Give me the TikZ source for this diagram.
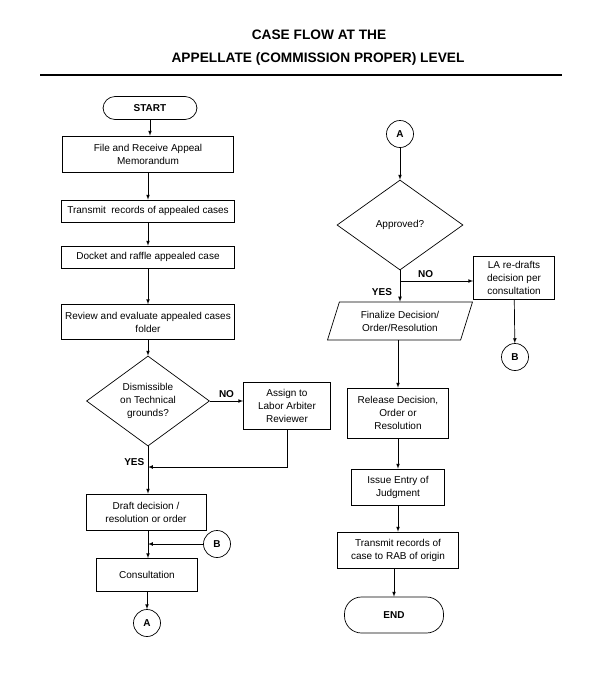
\documentclass[tikz,border=0pt]{standalone}
\usepackage{fontspec}
\setmainfont{Liberation Sans}
\usetikzlibrary{positioning,arrows}
\usetikzlibrary{shapes.geometric}
\tikzstyle{box} = [draw, rectangle, align=center, inner sep=2pt, font=\fontsize{10}{13}\selectfont]
\tikzstyle{term} = [draw, rectangle, rounded corners=12pt, font=\bfseries\fontsize{10}{12}\selectfont]
\tikzstyle{decide} = [draw, diamond, aspect=1.4, inner sep=0pt, align=center, font=\fontsize{10}{13}\selectfont]
\tikzstyle{slant} = [draw, trapezium, trapezium left angle=62, trapezium right angle=118, trapezium stretches body, align=center, inner sep=1pt, font=\fontsize{10}{13}\selectfont]
\tikzstyle{conn} = [draw, circle, minimum size=27pt, inner sep=0pt, font=\bfseries\fontsize{10}{12}\selectfont]
\tikzstyle{lbl} = [font=\bfseries\fontsize{10}{12}\selectfont]
\begin{document}
\begin{tikzpicture}[x=1pt,y=-1pt,line width=0.7pt,>=latex]
    \useasboundingbox (0,0) rectangle (607,678);
    % Title
    \node[font=\bfseries\fontsize{13.7}{16}\selectfont] (title1) at (319,35) {CASE FLOW AT THE};
    \node[font=\bfseries\fontsize{13.7}{16}\selectfont] (title2) at (318,59) {APPELLATE (COMMISSION PROPER) LEVEL};
    \draw[line width=1.4pt] (40,75) coordinate (rule_1) -- (562,75) coordinate (rule_2);
    % Left column
    \node[term, minimum width=94pt, minimum height=23pt] (start) at (150,108) {START};
    \node[box, minimum width=171pt, minimum height=36pt] (file) at (148,154) {File and Receive Appeal\\Memorandum};
    \node[box, minimum width=173pt, minimum height=22pt] (send) at (148,211) {Transmit\ \ records of appealed cases};
    \node[box, minimum width=173pt, minimum height=22pt] (docket) at (148,257) {Docket and raffle appealed case};
    \node[box, minimum width=173pt, minimum height=35pt] (review) at (148,322) {Review and evaluate appealed cases\\folder};
    \node[decide, minimum width=123pt, minimum height=90pt] (dismiss) at (148,401) {Dismissible\\on Technical\\grounds?};
    \node[box, minimum width=87pt, minimum height=47pt] (assign) at (287,406) {Assign to\\Labor Arbiter\\Reviewer};
    \node[box, minimum width=120pt, minimum height=36pt] (draft) at (146,512) {Draft decision /\\resolution or order};
    \node[box, minimum width=101pt, minimum height=33pt] (consult) at (147,575) {Consultation};
    \node[conn] (a_out) at (147,623) {A};
    \node[conn] (b_in) at (217,544) {B};
    \coordinate (join) at (148,467);
    \coordinate (b_join) at (148,544);
    % Right column
    \node[conn] (a_in) at (400,134) {A};
    \node[decide, minimum width=126pt, minimum height=90pt] (approved) at (400,225) {Approved?};
    \node[box, minimum width=81pt, minimum height=43pt] (redraft) at (514,278) {LA re-drafts\\decision per\\consultation};
    \node[conn] (b_out) at (515,357) {B};
    \node[slant, minimum height=38pt, minimum width=145pt] (final) at (400,321) {Finalize Decision/\\Order/Resolution};
    \node[box, minimum width=101pt, minimum height=50pt] (release) at (398,413) {Release Decision,\\Order or\\Resolution};
    \node[box, minimum width=93pt, minimum height=36pt] (issue) at (398,487) {Issue Entry of\\Judgment};
    \node[box, minimum width=121pt, minimum height=36pt] (send_rab) at (398,550) {Transmit records of\\case to RAB of origin};
    \node[term, minimum width=99pt, minimum height=36pt, rounded corners=17pt] (end) at (394,615) {END};
    \coordinate (split) at (400,281);

    \draw[->] (start) -- (start |- file.north);
    \draw[->] (file) -- (send);
    \draw[->] (send) -- (docket);
    \draw[->] (docket) -- (review);
    \draw[->] (review) -- (dismiss);
    \draw[->] (dismiss.east) -- (assign.west |- dismiss.east) node[lbl, midway, above] {NO};
    \draw[->] (assign.south) |- (join);
    \draw[->] (dismiss.south) -- (draft.north -| dismiss.south) node[lbl, pos=0.33, left] {YES};
    \draw[->] (draft.south -| join) -- (consult.north -| join);
    \draw[->] (b_in) -- (b_join);
    \draw[->] (consult.south -| a_out) -- (a_out);

    \draw[->] (a_in) -- (approved);
    \draw[->] (approved) -- (final.north -| approved);
    \draw[->] (split) -- (redraft.west |- split) node[lbl, pos=0.35, above] {NO};
    \node[lbl] (yes_r) at (382,292) {YES};
    \draw[->] (redraft) -- (b_out);
    \draw[->] (final.south -| release) -- (release);
    \draw[->] (release) -- (issue);
    \draw[->] (issue) -- (send_rab);
    \draw[->] (send_rab.south -| end) -- (end);
\end{tikzpicture}
\end{document}
